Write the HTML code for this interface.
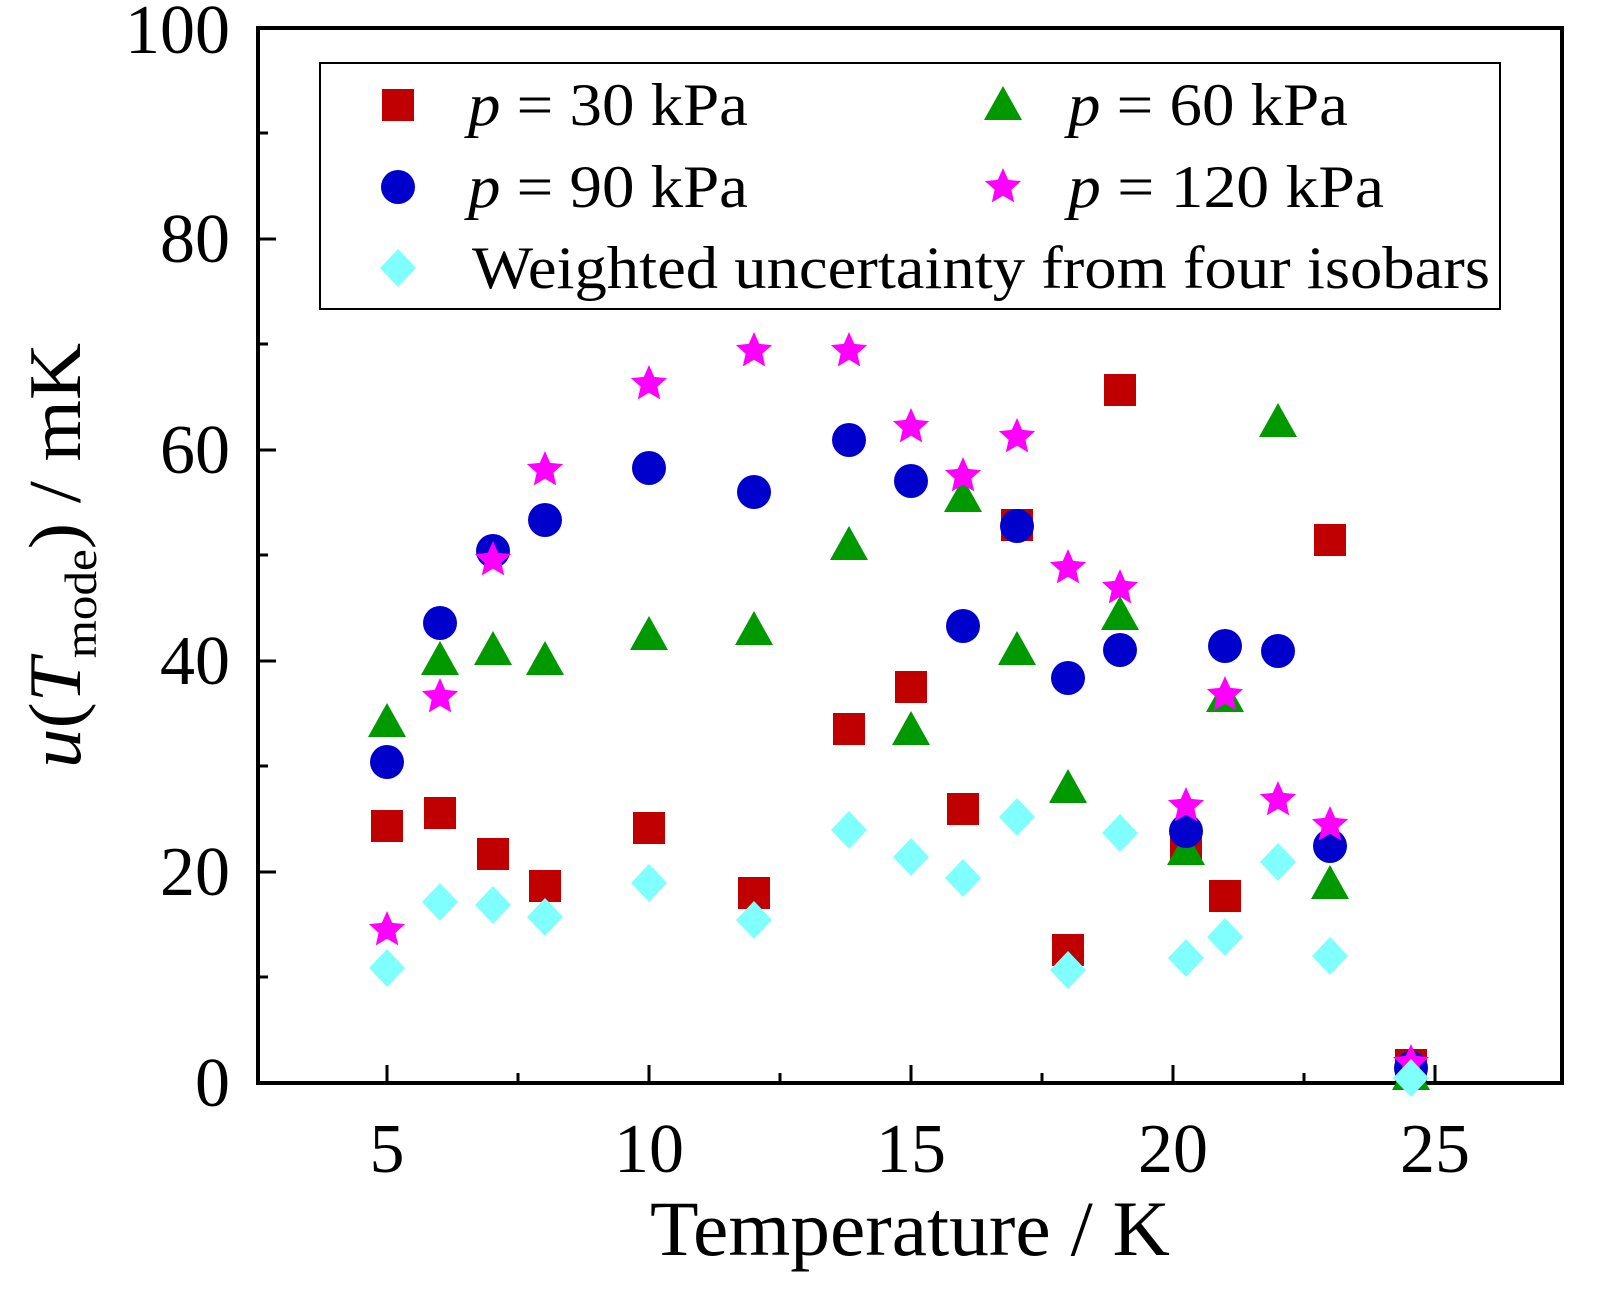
<!DOCTYPE html>
<html><head><style>body{margin:0;background:#fff}svg{display:block}</style></head><body>
<svg width="1600" height="1298" viewBox="0 0 1600 1298" xmlns="http://www.w3.org/2000/svg" font-family="'Liberation Serif',serif">
<defs>
<rect id="sq" x="-16" y="-16" width="32" height="32" fill="#c00000"/>
<polygon id="tr" points="0,-19 19,15 -19,15" fill="#009900"/>
<circle id="ci" r="17" fill="#0000cc"/>
<polygon id="st" points="0,-19 5.2,-7.1 18.1,-5.9 8.4,2.7 11.2,15.4 0,8.8 -11.2,15.4 -8.4,2.7 -18.1,-5.9 -5.2,-7.1" fill="#ff00ff"/>
<polygon id="di" points="0,-19 18,0 0,19 -18,0" fill="#80ffff"/>
</defs>
<rect x="258" y="28" width="1304" height="1055" fill="none" stroke="#000" stroke-width="4"/>
<g stroke="#000" stroke-width="3">
<line x1="387" y1="1083" x2="387" y2="1065"/><line x1="649" y1="1083" x2="649" y2="1065"/><line x1="911" y1="1083" x2="911" y2="1065"/><line x1="1173" y1="1083" x2="1173" y2="1065"/><line x1="1435" y1="1083" x2="1435" y2="1065"/>
<line x1="518" y1="1083" x2="518" y2="1073"/><line x1="780" y1="1083" x2="780" y2="1073"/><line x1="1042" y1="1083" x2="1042" y2="1073"/><line x1="1304" y1="1083" x2="1304" y2="1073"/>
<line x1="258" y1="872" x2="276" y2="872"/><line x1="258" y1="661" x2="276" y2="661"/><line x1="258" y1="450" x2="276" y2="450"/><line x1="258" y1="239" x2="276" y2="239"/>
<line x1="258" y1="977" x2="268" y2="977"/><line x1="258" y1="766" x2="268" y2="766"/><line x1="258" y1="555" x2="268" y2="555"/><line x1="258" y1="344" x2="268" y2="344"/><line x1="258" y1="133" x2="268" y2="133"/>
</g>
<g font-size="70" text-anchor="end">
<text x="230" y="1106">0</text><text x="230" y="895">20</text><text x="230" y="684">40</text><text x="230" y="473">60</text><text x="230" y="262">80</text><text x="230" y="53">100</text>
</g>
<g font-size="70" text-anchor="middle">
<text x="387" y="1172">5</text><text x="649" y="1172">10</text><text x="911" y="1172">15</text><text x="1173" y="1172">20</text><text x="1435" y="1172">25</text>
</g>
<text x="650" y="1255" font-size="78" textLength="520" lengthAdjust="spacingAndGlyphs">Temperature / K</text>
<text transform="translate(80,768) rotate(-90)" font-size="74" textLength="425" lengthAdjust="spacingAndGlyphs"><tspan font-style="italic">u</tspan>(<tspan font-style="italic">T</tspan><tspan font-size="46" dy="16">mode</tspan><tspan dy="-16">) / mK</tspan></text>
<rect x="320" y="63" width="1180" height="246" fill="#fff" stroke="#000" stroke-width="2"/>
<g font-size="60">
<use href="#sq" x="398" y="105"/><text x="468" y="125" textLength="280" lengthAdjust="spacingAndGlyphs"><tspan font-style="italic">p</tspan> = 30 kPa</text>
<use href="#tr" x="1003" y="105"/><text x="1068" y="125" textLength="280" lengthAdjust="spacingAndGlyphs"><tspan font-style="italic">p</tspan> = 60 kPa</text>
<use href="#ci" x="398" y="187"/><text x="468" y="207" textLength="280" lengthAdjust="spacingAndGlyphs"><tspan font-style="italic">p</tspan> = 90 kPa</text>
<use href="#st" x="1003" y="187"/><text x="1068" y="207" textLength="316" lengthAdjust="spacingAndGlyphs"><tspan font-style="italic">p</tspan> = 120 kPa</text>
<use href="#di" x="398" y="268"/><text x="472" y="288" textLength="1018" lengthAdjust="spacingAndGlyphs">Weighted uncertainty from four isobars</text>
</g>
<g>
<use href="#sq" x="387" y="826"/><use href="#sq" x="440" y="813"/><use href="#sq" x="493" y="854"/><use href="#sq" x="545" y="886"/><use href="#sq" x="649" y="828"/><use href="#sq" x="754" y="893"/><use href="#sq" x="849" y="729"/><use href="#sq" x="911" y="687"/><use href="#sq" x="963" y="809"/><use href="#sq" x="1017" y="525"/><use href="#sq" x="1068" y="950"/><use href="#sq" x="1120" y="390"/><use href="#sq" x="1186" y="846"/><use href="#sq" x="1225" y="896"/><use href="#sq" x="1330" y="540"/><use href="#sq" x="1411" y="1065"/>
<use href="#tr" x="387" y="722"/><use href="#tr" x="440" y="660"/><use href="#tr" x="493" y="650"/><use href="#tr" x="545" y="660"/><use href="#tr" x="649" y="635"/><use href="#tr" x="754" y="630"/><use href="#tr" x="849" y="545"/><use href="#tr" x="911" y="730"/><use href="#tr" x="963" y="497"/><use href="#tr" x="1017" y="650"/><use href="#tr" x="1068" y="788"/><use href="#tr" x="1120" y="615"/><use href="#tr" x="1186" y="850"/><use href="#tr" x="1225" y="697"/><use href="#tr" x="1278" y="422"/><use href="#tr" x="1330" y="884"/><use href="#tr" x="1411" y="1075"/>
<use href="#ci" x="387" y="762"/><use href="#ci" x="440" y="623"/><use href="#ci" x="493" y="551"/><use href="#ci" x="545" y="520"/><use href="#ci" x="649" y="468"/><use href="#ci" x="754" y="492"/><use href="#ci" x="849" y="440"/><use href="#ci" x="911" y="481"/><use href="#ci" x="963" y="626"/><use href="#ci" x="1017" y="526"/><use href="#ci" x="1068" y="678"/><use href="#ci" x="1120" y="650"/><use href="#ci" x="1186" y="831"/><use href="#ci" x="1225" y="646"/><use href="#ci" x="1278" y="651"/><use href="#ci" x="1330" y="846"/><use href="#ci" x="1411" y="1068"/>
<use href="#st" x="387" y="930"/><use href="#st" x="440" y="697"/><use href="#st" x="493" y="560"/><use href="#st" x="545" y="470"/><use href="#st" x="649" y="384"/><use href="#st" x="754" y="351"/><use href="#st" x="849" y="351"/><use href="#st" x="911" y="427"/><use href="#st" x="963" y="476"/><use href="#st" x="1017" y="437"/><use href="#st" x="1068" y="568"/><use href="#st" x="1120" y="588"/><use href="#st" x="1186" y="806"/><use href="#st" x="1225" y="695"/><use href="#st" x="1278" y="800"/><use href="#st" x="1330" y="825"/><use href="#st" x="1411" y="1063"/>
<use href="#di" x="387" y="968"/><use href="#di" x="440" y="902"/><use href="#di" x="493" y="905"/><use href="#di" x="545" y="917"/><use href="#di" x="649" y="883"/><use href="#di" x="754" y="920"/><use href="#di" x="849" y="830"/><use href="#di" x="911" y="857"/><use href="#di" x="963" y="878"/><use href="#di" x="1017" y="817"/><use href="#di" x="1068" y="970"/><use href="#di" x="1120" y="833"/><use href="#di" x="1186" y="958"/><use href="#di" x="1225" y="937"/><use href="#di" x="1278" y="862"/><use href="#di" x="1330" y="956"/><use href="#di" x="1411" y="1078"/>
</g>
</svg>
</body></html>
